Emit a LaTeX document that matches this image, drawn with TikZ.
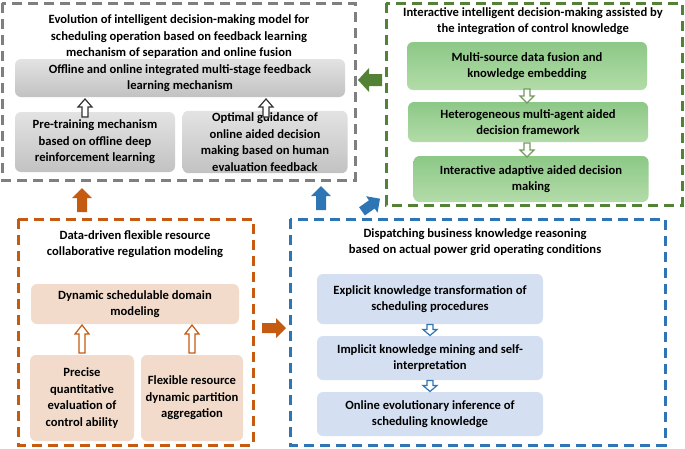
\documentclass[tikz,border=0pt]{standalone}
\usepackage{fontspec}
\setmainfont{Carlito}
\definecolor{cgray}{HTML}{7F7F7F}
\definecolor{cgreen}{HTML}{538135}
\definecolor{cgreenfa}{HTML}{8CC887}
\definecolor{cgreenfb}{HTML}{B3DCA8}
\definecolor{corange}{HTML}{C55A11}
\definecolor{cblue}{HTML}{2E75B6}
\definecolor{cbluef}{HTML}{4472C4}
% x, y, angle, length, shaft half width, head half width, head length, style
\newcommand{\blockarrow}[8]{%
 \draw[#8,shift={(#1,#2)},rotate=#3] (-#4/2,-#5)--(#4/2-#7,-#5)--(#4/2-#7,-#6)--(#4/2,0)--(#4/2-#7,#6)--(#4/2-#7,#5)--(-#4/2,#5)--cycle;}
\begin{document}
\begin{tikzpicture}[x=1pt,y=-1pt,font=\bfseries\fontsize{12.6}{16.5}\selectfont,
 frame/.style={draw,line width=3pt,dash pattern=on 10pt off 6pt},
 ibox/.style={rounded corners=6pt,align=center,inner sep=2pt},
 gbox/.style={ibox,top color=gray!22,bottom color=gray!48},
 grbox/.style={ibox,top color=cgreenfa,bottom color=cgreenfb},
 obox/.style={ibox,fill=corange!22},
 bbox/.style={ibox,fill=cbluef!23},
 hollow/.style={fill=white,line width=1.2pt},
 solid/.style={fill,draw=none}]
\useasboundingbox (0,0) rectangle (685,448);
% frames
\draw[frame,cgray] (2,3) rectangle (355,180);
\draw[frame,cgreen] (386,3) rectangle (682,205);
\draw[frame,corange] (18,219) rectangle (253,445);
\draw[frame,cblue] (290,219) rectangle (665,445);
% gray
\node[align=center] (gt) at (179,37) {Evolution of intelligent decision-making model for\\scheduling operation based on feedback learning\\mechanism of separation and online fusion};
\node[gbox,minimum width=330pt,minimum height=38pt] (g1) at (180,78) {Offline and online integrated multi-stage feedback\\learning mechanism};
\node[gbox,minimum width=160pt,minimum height=60pt] (g2) at (95,142) {Pre-training mechanism\\based on offline deep\\reinforcement learning};
\node[gbox,minimum width=165pt,minimum height=62pt] (g3) at (265,142) {Optimal guidance of\\online aided decision\\making based on human\\evaluation feedback};
\blockarrow{85}{108}{90}{18}{3}{7}{8}{hollow,draw=black!80}
\blockarrow{266}{108}{90}{18}{3}{7}{8}{hollow,draw=black!80}
% green
\node[align=center] (grt) at (533,21) {Interactive intelligent decision-making assisted by\\the integration of control knowledge};
\node[grbox,minimum width=240pt,minimum height=48pt] (r1) at (527,66) {Multi-source data fusion and\\knowledge embedding};
\node[grbox,minimum width=240pt,minimum height=40pt] (r2) at (528,122) {Heterogeneous multi-agent aided\\decision framework};
\node[grbox,minimum width=235pt,minimum height=46pt] (r3) at (531,179) {Interactive adaptive aided decision\\making};
\blockarrow{527}{96}{-90}{14}{3}{7}{7}{hollow,draw=cgreen!80}
\blockarrow{527}{150}{-90}{14}{3}{7}{7}{hollow,draw=cgreen!80}
% orange
\node[align=center] (ot) at (135,244) {Data-driven flexible resource\\collaborative regulation modeling};
\node[obox,minimum width=208pt,minimum height=40pt] (o1) at (135,304) {Dynamic schedulable domain\\modeling};
\node[obox,minimum width=104pt,minimum height=86pt] (o2) at (82,398) {Precise\\quantitative\\evaluation of\\control ability};
\node[obox,minimum width=102pt,minimum height=86pt] (o3) at (192,398) {Flexible resource\\dynamic partition\\aggregation};
\blockarrow{82}{339}{90}{28}{3}{7}{9}{hollow,draw=corange}
\blockarrow{192}{339}{90}{28}{3}{7}{9}{hollow,draw=corange}
% blue
\node[align=center] (bt) at (475,242) {Dispatching business knowledge reasoning\\based on actual power grid operating conditions};
\node[bbox,minimum width=226pt,minimum height=50pt] (b1) at (430,299) {Explicit knowledge transformation of\\scheduling procedures};
\node[bbox,minimum width=226pt,minimum height=44pt] (b2) at (430,358) {Implicit knowledge mining and self-\\interpretation};
\node[bbox,minimum width=226pt,minimum height=44pt] (b3) at (430,414) {Online evolutionary inference of\\scheduling knowledge};
\blockarrow{430}{330}{-90}{11}{3}{7}{6}{hollow,draw=cblue}
\blockarrow{430}{386}{-90}{11}{3}{7}{6}{hollow,draw=cblue}
% solid arrows
\blockarrow{370}{80}{180}{24}{6}{12}{11}{solid,fill=cgreen}
\blockarrow{82}{200}{90}{24}{5}{10}{10}{solid,fill=corange}
\blockarrow{321}{198}{90}{24}{5}{10}{10}{solid,fill=cblue}
\blockarrow{371}{205}{35}{22}{5}{10}{10}{solid,fill=cblue}
\blockarrow{274}{328}{0}{24}{5}{10}{10}{solid,fill=corange}
\end{tikzpicture}
\end{document}
